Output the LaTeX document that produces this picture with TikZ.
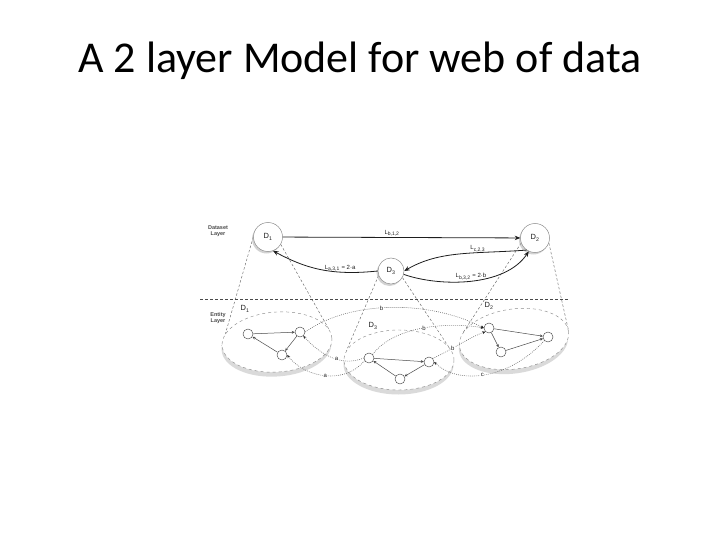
\documentclass[tikz,border=0pt]{standalone}
\usepackage{fontspec}
\setmainfont{Carlito}
\newfontfamily\diagfont{Liberation Sans}
\usetikzlibrary{arrows.meta,positioning,calc,shapes.geometric,shadows,backgrounds}
\definecolor{ink}{HTML}{1E1E1E}
\definecolor{gry}{HTML}{8C8C8C}
\definecolor{gryD}{HTML}{4A4A4A}
\tikzset{
  dset/.style ={circle, draw=gry, fill=white, line width=.5pt, minimum size=29pt, inner sep=0pt,
                font=\diagfont\fontsize{7.5}{8}\selectfont, text=ink,
                drop shadow={shadow xshift=-1.5pt, shadow yshift=-2pt, fill=gray!70, opacity=.5}},
  cloud/.style={ellipse, draw=gry, dashed, fill=white, line width=.45pt, inner sep=0pt,
                minimum width=110pt, minimum height=60pt,
                drop shadow={shadow xshift=-.5pt, shadow yshift=-4.5pt, fill=gray!65, opacity=.45}},
  ent/.style  ={circle, draw=gryD, fill=white, line width=.45pt, minimum size=10pt, inner sep=0pt},
  lbl/.style  ={font=\diagfont\fontsize{6}{7}\selectfont, text=ink, inner sep=.6pt},
  tag/.style  ={font=\diagfont\fontsize{7.5}{8}\selectfont, text=ink},
  layer/.style={font=\diagfont\fontsize{5.5}{6.5}\selectfont\bfseries, text=gryD, align=center},
  dlink/.style={-{Stealth[length=5.5pt,width=4.5pt]}, line width=.8pt, draw=ink},
  elink/.style={-{Stealth[length=3pt,width=2.8pt]}, line width=.5pt, draw=gryD},
  xlink/.style={-{Stealth[length=3pt,width=2.8pt,color=ink]}, line width=.55pt,
                draw=gray!75!black, dash pattern=on .8pt off 1.2pt},
  proj/.style ={draw=gray!80!black, line width=.45pt, dash pattern=on 2.5pt off 2pt},
  sep/.style  ={draw=gryD, line width=.55pt, dash pattern=on 3pt off 2pt},
}
\begin{document}
\begin{tikzpicture}[x=1pt,y=-1pt]
  \useasboundingbox (0,0) rectangle (720,540);
  % --- title ---
  \node[anchor=base, font=\fontsize{44}{52}\selectfont](title) at (360,73){A 2 layer Model for web of data};
  % --- dataset layer ---
  \node[layer](dlayer) at (218,231){Dataset\\Layer};
  \node[dset](d1) at (268,237){D\textsubscript{1}};
  \node[dset](d2) at (535,238){D\textsubscript{2}};
  \node[dset, minimum size=26pt](d3) at (391,271){D\textsubscript{3}};
  \draw[dlink] (d1) -- node[lbl, above, pos=.46]{L\textsubscript{b,1,2}} (d2);
  \draw[dlink] (d2.235) .. controls (475,254) and (440,250) ..
        node[lbl, above, pos=.35]{L\textsubscript{c,2,3}} (d3.east);
  \draw[dlink] (d3.-15) .. controls (440,287) and (505,287) ..
        node[lbl, above, pos=.5]{L\textsubscript{b,3,2} = 2·b} (d2.245);
  \draw[dlink] (d3.west) .. controls (330,276) and (305,268) ..
        node[lbl, above, pos=.3]{L\textsubscript{a,3,1} = 2·a} (d1.-70);
  % --- layer separator ---
  \coordinate (sepL) at (200,299);
  \coordinate (sepR) at (568,299);
  \draw[sep] (sepL) -- (sepR);
  % --- entity layer ---
  \node[layer](elayer) at (218,318){Entity\\Layer};
  \node[cloud, rotate=4](e1) at (277,342){};
  \node[cloud](e3) at (399,360){};
  \node[cloud, rotate=8](e2) at (514,339){};
  \node[tag](t1) at (245,309){D\textsubscript{1}};
  \node[tag](t3) at (373,326){D\textsubscript{3}};
  \node[tag](t2) at (489,306){D\textsubscript{2}};
  \begin{scope}[on background layer]
    \foreach \a/\b in {d1.west/e1.west, d1.-30/e1.10, d3.200/e3.170,
                       d3.-30/e3.15, d2.200/e2.165, d2.-20/e2.east}
       \draw[proj] (\a) -- (\b);
  \end{scope}
  \foreach \n/\x/\y in {n11/248/334, n12/300/332, n13/282/355,
                        n31/369/358, n32/429/362, n33/400/379,
                        n21/489/328, n22/548/337, n23/501/352}
     \node[ent](\n) at (\x,\y){};
  \foreach \a/\b in {n11/n12,n12/n13,n13/n11,n31/n32,n32/n33,n33/n31,n21/n22,n21/n23,n23/n22}
     \draw[elink] (\a) -- (\b);
  % links between datasets
  \draw[xlink] (n31.west) .. controls (340,368) and (318,352) ..
        node[lbl, fill=white, pos=.4]{a} (n12.-50);
  \draw[xlink] (n31.-150) .. controls (345,385) and (305,378) ..
        node[lbl, fill=white, pos=.5]{a} (n13.east);
  \draw[xlink] (n12.east) .. controls (350,300) and (430,300) ..
        node[lbl, fill=white, pos=.45]{b} (n21.west);
  \draw[xlink] (n31.north east) .. controls (395,325) and (450,322) ..
        node[lbl, fill=white, pos=.5]{b} (n21.west);
  \draw[xlink] (n32.north east) .. controls (448,352) and (468,338) ..
        node[lbl, fill=white, pos=.4]{b} (n21.south west);
  \draw[xlink] (n22.south west) .. controls (505,383) and (455,383) ..
        node[lbl, fill=white, pos=.5]{c} (n32.east);
\end{tikzpicture}
\end{document}
